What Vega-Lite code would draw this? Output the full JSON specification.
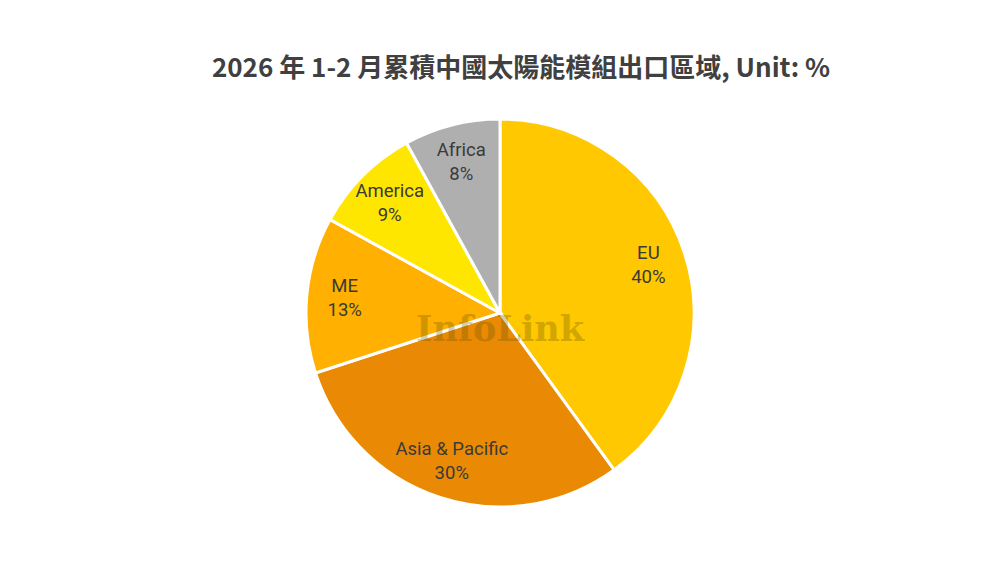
{
  "$schema": "https://vega.github.io/schema/vega-lite/v6.json",
  "width": 1000,
  "height": 626,
  "autosize": "none",
  "padding": 0,
  "background": "#ffffff",
  "title": {
    "text": "2026 年 1-2 月累積中國太陽能模組出口區域, Unit: %",
    "font": "Noto Sans CJK TC",
    "fontSize": 26,
    "fontWeight": "bold",
    "color": "#404040",
    "anchor": "middle",
    "offset": -82,
    "dx": 21
  },
  "datasets": {
    "shares": [
      {"region": "EU", "share": 40, "rank": 1, "label": "EU\n40%"},
      {"region": "Asia & Pacific", "share": 30, "rank": 2, "label": "Asia & Pacific\n30%"},
      {"region": "ME", "share": 13, "rank": 3, "label": "ME\n13%"},
      {"region": "America", "share": 9, "rank": 4, "label": "America\n9%"},
      {"region": "Africa", "share": 8, "rank": 5, "label": "Africa\n8%"}
    ],
    "mark": [{"brand": "InfoLink"}]
  },
  "layer": [
    {
      "data": {"name": "shares"},
      "mark": {"type": "arc", "outerRadius": 194, "stroke": "#ffffff", "strokeWidth": 3},
      "encoding": {
        "theta": {"field": "share", "type": "quantitative", "stack": true},
        "order": {"field": "rank", "type": "quantitative"},
        "color": {
          "field": "region",
          "type": "nominal",
          "scale": {
            "domain": ["EU", "Asia & Pacific", "ME", "America", "Africa"],
            "range": ["#FFC800", "#EA8A04", "#FFB000", "#FFE600", "#AFAFAF"]
          },
          "legend": null
        }
      }
    },
    {
      "data": {"name": "shares"},
      "mark": {"type": "text", "radius": 156, "font": "Roboto", "fontSize": 18.5, "color": "#3a3a3a", "lineBreak": "\n", "lineHeight": 24, "dy": -12},
      "encoding": {
        "theta": {"field": "share", "type": "quantitative", "stack": true},
        "order": {"field": "rank", "type": "quantitative"},
        "text": {"field": "label", "type": "nominal"}
      }
    },
    {
      "data": {"name": "mark"},
      "mark": {"type": "text", "font": "DejaVu Serif", "fontSize": 35, "fontWeight": "bold", "color": "#5c5200", "opacity": 0.28, "dy": 17},
      "encoding": {
        "text": {"field": "brand", "type": "nominal"}
      }
    }
  ]
}
